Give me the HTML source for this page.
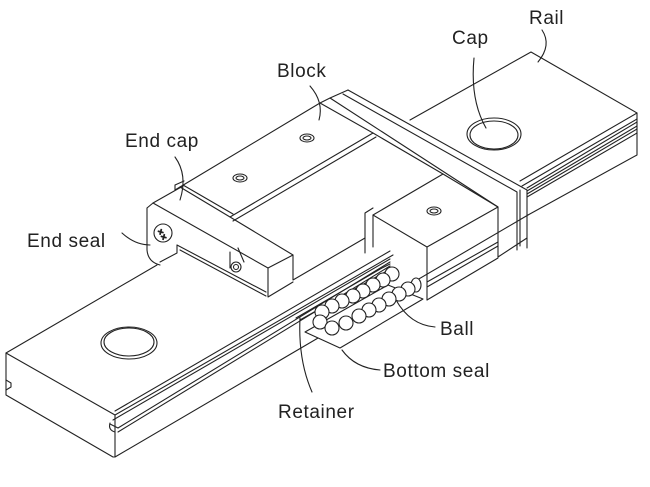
<!DOCTYPE html>
<html><head><meta charset="utf-8"><style>
html,body{margin:0;padding:0;background:#fff;}
svg{display:block;}
text{font-family:"Liberation Sans",sans-serif;font-size:19px;letter-spacing:0.6px;fill:#222;}
</style></head><body>
<svg width="650" height="487" viewBox="0 0 650 487" xmlns="http://www.w3.org/2000/svg">
<g fill="none" stroke="#222" stroke-width="1.1" stroke-linejoin="round" stroke-linecap="round">
<!-- Rail far part -->
<path d="M410,120 L531,52 L637,113 L637,155 L528,215"/>
<path d="M637,113 L520,181"/>
<path d="M637,119 L522,186"/>
<path d="M637,122 L527,188 M637,126 L527,191 M637,129 L527,194 M637,133 L527,197"/>
<ellipse cx="494" cy="134" rx="27" ry="16" fill="#fff"/>
<ellipse cx="494" cy="135" rx="24" ry="14"/>
<!-- Rail near part -->
<path d="M157,265 L6,353 L6,395 L113,457 L115,457 L528,215"/>
<path d="M6,353 L115,415 L115,457"/>
<path d="M6,380 L11,383 L11,387 L6,390" />
<path d="M115,415 L393,255"/>
<path d="M115,411 L390,251"/>
<path d="M113,420 L390,259 M110,424 L118,428 M118,428 L390,262 M118,432 L390,266"/>
<path d="M110,423 Q108,430 115,432"/>
<ellipse cx="129" cy="343" rx="28" ry="16" fill="#fff"/>
<ellipse cx="129" cy="342" rx="25" ry="14"/>
<!-- Cap band -->
<path d="M348,90 L527,190 L527,248"/>
<path d="M343,94 L517,192 L517,250"/>
<path d="M520,190 L520,246 M498,257 L527,238"/>
<path d="M330,98 L348,90"/>
<!-- Block top -->
<path d="M180,187 L320,103 L330,98 L498,207 L498,257"/>
<path d="M180,187 L230,217 L373,133 L320,103"/>
<path d="M183,185 L233,214" />
<path d="M233,221 L376,137"/>
<path d="M175,185 L175,190 L180,187 M175,185 L184,181"/>
<path d="M373,133 L443,174 L373,215 L373,247"/>
<path d="M443,174 L498,207 L427,247 L373,215"/>
<path d="M427,247 L427,300 M427,282 L498,242 M427,287 L498,246"/>
<path d="M365,213 L365,253 M365,213 L373,208"/>
<path d="M427,300 L498,258"/>
<ellipse cx="240" cy="178" rx="7" ry="4"/><ellipse cx="240" cy="178" rx="4" ry="2"/>
<ellipse cx="307" cy="138" rx="7" ry="4"/><ellipse cx="307" cy="138" rx="4" ry="2"/>
<ellipse cx="434" cy="211" rx="7" ry="4"/><ellipse cx="434" cy="211" rx="4" ry="2"/>
<!-- End part front -->
<path d="M230,217 L293,255 L293,280 L365,238"/>
<path d="M153,203 L268,268 L268,297 L293,282"/>
<path d="M268,268 L293,255"/>
<path d="M147,208 L153,203 L183,186"/>
<path d="M147,208 L147,250 Q148,262 160,265"/>
<path d="M177,245 L266,292 M180,250 L266,296 M177,245 L177,253 L160,262"/>
<circle cx="163" cy="233" r="9"/>
<text x="158" y="237" style="font-size:7px;letter-spacing:0" transform="rotate(60 163 233)">✕✕</text>
<path d="M230,252 L230,268 M238,248 L244,262"/>
<circle cx="236" cy="267" r="5"/><circle cx="236" cy="267" r="2.5"/>
<!-- Bottom seal -->
<path d="M305,332 L340,348 L423,299 L388,285 Z" fill="#fff"/>
<path d="M300,320 L385,272 L395,268"/>
<path d="M296,318 L382,268 L390,264"/>
<!-- Balls -->
<g fill="#fff">
<circle cx="392" cy="274" r="7"/><circle cx="383" cy="280" r="7"/><circle cx="373" cy="285" r="7"/><circle cx="363" cy="291" r="7"/><circle cx="353" cy="296" r="7"/><circle cx="342" cy="301" r="7"/><circle cx="332" cy="306" r="7"/><circle cx="322" cy="312" r="7"/><circle cx="320" cy="322" r="7"/>
<ellipse cx="416" cy="285" rx="5" ry="7"/>
<circle cx="408" cy="289" r="7"/><circle cx="399" cy="294" r="7"/><circle cx="389" cy="299" r="7"/><circle cx="379" cy="305" r="7"/><circle cx="369" cy="310" r="7"/><circle cx="359" cy="316" r="7"/><circle cx="346" cy="323" r="7"/><circle cx="332" cy="328" r="7"/>
</g>
<!-- leaders -->
<path d="M542,30 Q552,45 538,62"/>
<path d="M474,58 Q470,100 486,128"/>
<path d="M310,86 Q324,102 319,120"/>
<path d="M175,157 Q188,175 180,200"/>
<path d="M122,233 Q135,245 150,245"/>
<path d="M435,327 Q410,325 396,300"/>
<path d="M380,370 Q355,368 342,350"/>
<path d="M312,392 Q298,360 300,318"/>
</g>
<text x="529" y="24">Rail</text>
<text x="452" y="44">Cap</text>
<text x="277" y="77">Block</text>
<text x="125" y="147">End cap</text>
<text x="27" y="247">End seal</text>
<text x="440" y="335">Ball</text>
<text x="383" y="377">Bottom seal</text>
<text x="278" y="418">Retainer</text>
</svg>
</body></html>
